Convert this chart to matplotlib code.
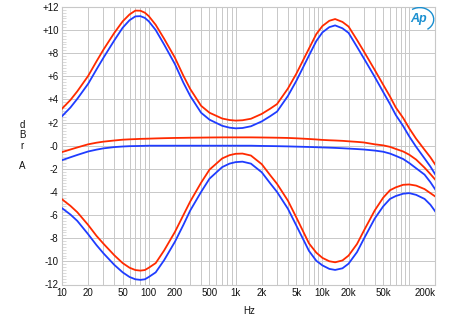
import matplotlib
matplotlib.use("Agg")
import matplotlib.pyplot as plt
from matplotlib.ticker import FixedLocator, MultipleLocator, NullFormatter
from matplotlib.patches import Arc

plt.rcParams['font.family'] = ['Liberation Sans', 'DejaVu Sans']

freqs = [10, 12.5, 15, 20, 25, 30, 40, 50, 60, 70, 80, 90, 100, 120, 150, 200, 250, 300, 400, 500,
         700, 850, 1000, 1200, 1500, 2000, 2500, 3000, 4000, 5000, 7000, 8500, 10000, 12000, 14000,
         17000, 20000, 25000, 30000, 40000, 50000, 60000, 70000, 85000, 100000, 120000, 150000,
         175000, 200000]

top_red = [3.2, 3.95, 4.7, 6.03, 7.3, 8.3, 9.75, 10.75, 11.35, 11.68, 11.67, 11.5, 11.2, 10.45, 9.25,
           7.6, 6.05, 4.9, 3.45, 2.85, 2.35, 2.22, 2.17, 2.2, 2.33, 2.75, 3.2, 3.6, 4.94, 6.22, 8.4,
           9.65, 10.35, 10.8, 10.95, 10.7, 10.3, 9.14, 8.15, 6.55, 5.28, 4.25, 3.3, 2.4, 1.5, 0.6,
           -0.35, -1.0, -1.65]
top_blue = [2.55, 3.3, 4.05, 5.35, 6.6, 7.6, 9.1, 10.2, 10.85, 11.18, 11.2, 11.05, 10.75, 10.0, 8.75,
            7.05, 5.45, 4.3, 2.85, 2.25, 1.72, 1.56, 1.5, 1.53, 1.68, 2.1, 2.55, 2.95, 4.3, 5.6, 7.8,
            9.05, 9.8, 10.25, 10.4, 10.15, 9.75, 8.55, 7.55, 5.95, 4.65, 3.6, 2.65, 1.7, 0.8, -0.1,
            -1.1, -1.8, -2.5]
flat_red = [-0.55, -0.33, -0.15, 0.12, 0.26, 0.35, 0.45, 0.52, 0.55, 0.57, 0.59, 0.6, 0.61, 0.63, 0.65,
            0.67, 0.68, 0.69, 0.7, 0.71, 0.72, 0.72, 0.72, 0.72, 0.72, 0.71, 0.7, 0.69, 0.67, 0.64, 0.58,
            0.54, 0.5, 0.47, 0.45, 0.42, 0.38, 0.33, 0.28, 0.12, 0.03, -0.1, -0.28, -0.5, -0.78, -1.2,
            -1.9, -2.45, -2.95]
flat_blue = [-1.25, -1.0, -0.8, -0.5, -0.34, -0.23, -0.12, -0.07, -0.04, -0.03, -0.02, -0.01, 0.0, 0.0,
             0.0, 0.0, 0.0, 0.0, 0.0, 0.0, 0.0, 0.0, 0.0, 0.0, 0.0, -0.02, -0.03, -0.04, -0.06, -0.08,
             -0.11, -0.13, -0.15, -0.17, -0.19, -0.22, -0.25, -0.29, -0.33, -0.42, -0.52, -0.68, -0.88,
             -1.15, -1.5, -1.95, -2.5, -3.15, -3.8]
bot_red = [-4.63, -5.2, -5.75, -6.85, -7.8, -8.47, -9.47, -10.15, -10.55, -10.75, -10.8, -10.75, -10.55,
           -10.15, -9.06, -7.45, -6.0, -4.82, -3.2, -2.07, -1.1, -0.82, -0.7, -0.68, -0.85, -1.6, -2.55,
           -3.3, -4.75, -6.2, -8.45, -9.25, -9.7, -9.99, -10.08, -9.92, -9.5, -8.5, -7.35, -5.6, -4.5,
           -3.85, -3.6, -3.38, -3.35, -3.45, -3.75, -4.1, -4.4]
bot_blue = [-5.4, -5.95, -6.5, -7.65, -8.6, -9.3, -10.3, -10.95, -11.35, -11.55, -11.6, -11.55, -11.35,
            -10.95, -9.9, -8.3, -6.85, -5.6, -4.0, -2.85, -1.85, -1.55, -1.42, -1.38, -1.55, -2.3, -3.25,
            -4.0, -5.45, -6.9, -9.1, -9.95, -10.35, -10.65, -10.74, -10.6, -10.2, -9.2, -8.05, -6.3,
            -5.25, -4.6, -4.35, -4.15, -4.1, -4.25, -4.6, -5.1, -5.7]

ytick_vals = [12, 10, 8, 6, 4, 2, 0, -2, -4, -6, -8, -10, -12]
ytick_labels = ['+12', '+10', '+8', '+6', '+4', '+2', '-0', '-2', '-4', '-6', '-8', '-10', '-12']
xtick_vals = [10, 20, 50, 100, 200, 500, 1000, 2000, 5000, 10000, 20000, 50000, 200000]
xtick_labels = ['10', '20', '50', '100', '200', '500', '1k', '2k', '5k', '10k', '20k', '50k', '200k']

RED = '#ff2a00'
BLUE = '#1f3cff'
GRID = '#c8c8c8'

fig = plt.figure(figsize=(4.5, 3.2), dpi=100)
ax = fig.add_axes([62/450, 1 - 284.5/320, (435.4 - 62)/450, (284.5 - 6.9)/320])
ax.set_xscale('log')
ax.set_xlim(10, 200000)
ax.set_ylim(-12, 12)

vlines = [m * 10**e for e in range(1, 6) for m in range(1, 10) if m * 10**e <= 200000]
for v in vlines:
    ax.axvline(v, color=GRID, lw=0.7, zorder=0)
for h in ytick_vals:
    ax.axhline(h, color=GRID, lw=0.7, zorder=0)

for ys, c in [(top_red, RED), (top_blue, BLUE), (flat_red, RED), (flat_blue, BLUE),
              (bot_red, RED), (bot_blue, BLUE)]:
    ax.plot(freqs, ys, color=c, lw=1.3, solid_joinstyle='round', zorder=3)

ax.xaxis.set_major_locator(FixedLocator(xtick_vals))
ax.xaxis.set_minor_locator(FixedLocator([]))
ax.xaxis.set_minor_formatter(NullFormatter())
ax.set_xticklabels(xtick_labels)
ax.set_yticks(ytick_vals)
ax.set_yticklabels(ytick_labels)
ax.yaxis.set_minor_locator(MultipleLocator(0.25))
ax.tick_params(axis='both', which='major', length=0, labelsize=7, colors='#111111', pad=2.5)
ax.tick_params(axis='y', which='minor', length=3, direction='in', color='#d4d4d4', width=0.6)
labs = ax.get_xticklabels()
labs[-1].set_ha('right')

for s in ax.spines.values():
    s.set_color(GRID)
    s.set_linewidth(0.8)

ax.set_xlabel('Hz', fontsize=7, color='#111111', labelpad=6)

for ch, yp in [('d', 125), ('B', 135.5), ('r', 145.7), ('A', 166)]:
    fig.text(22/450, 1 - yp/320, ch, fontsize=7, color='#111111', ha='center', va='center')

# AP logo
ax.text(0.955, 0.955, 'Ap', transform=ax.transAxes, fontsize=9, fontstyle='italic',
        fontweight='bold', color='#1a8fd0', ha='center', va='center', zorder=5)
ax.add_patch(Arc((0.958, 0.955), 0.075, 0.085, angle=0, theta1=-60, theta2=120,
                 transform=ax.transAxes, color='#1a8fd0', lw=1.0, zorder=5))

fig.savefig('out.png', dpi=100, facecolor='white')
